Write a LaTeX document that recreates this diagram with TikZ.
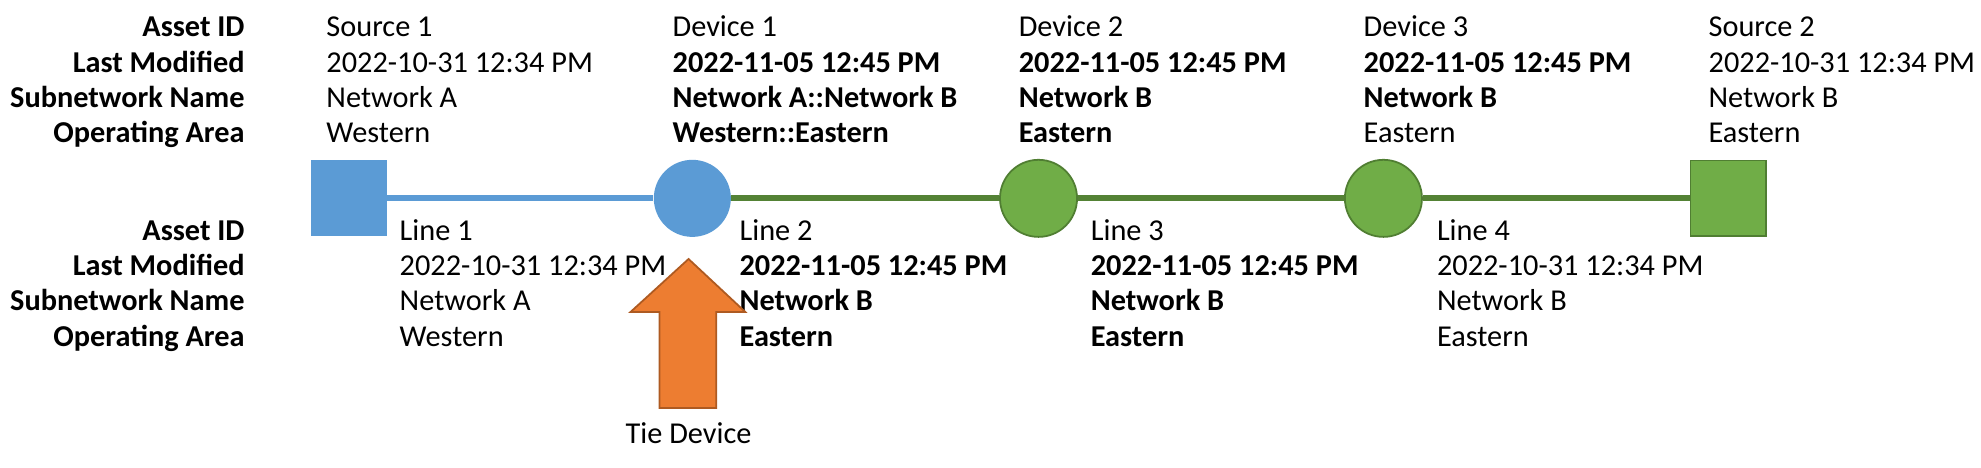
\documentclass[tikz,border=0pt]{standalone}
\usepackage{fontspec}
\setmainfont{Carlito}
\usetikzlibrary{positioning}

\definecolor{accblue}{HTML}{5B9BD5}
\definecolor{accgreen}{HTML}{70AD47}
\definecolor{darkgreen}{HTML}{507E32}
\definecolor{linegreen}{HTML}{548235}
\definecolor{accorange}{HTML}{ED7D31}
\definecolor{darkorange}{HTML}{AE5A21}

\begin{document}
\begin{tikzpicture}[x=0.5pt,y=0.5pt,
    txt/.style={inner sep=0pt, anchor=north west, align=left,
      font=\fontsize{12}{14}\selectfont},
    hdr/.style={inner sep=0pt, anchor=north east, align=right,
      font=\fontsize{12}{14}\selectfont\bfseries},
    srcblue/.style={rectangle, fill=accblue, minimum size=30pt, inner sep=0pt},
    srcgreen/.style={rectangle, fill=accgreen, draw=darkgreen, line width=0.7pt,
      minimum size=30pt, inner sep=0pt},
    devblue/.style={circle, fill=accblue, minimum size=30.5pt, inner sep=0pt},
    devgreen/.style={circle, fill=accgreen, draw=darkgreen, line width=0.7pt,
      minimum size=30.5pt, inner sep=0pt},
    blueline/.style={draw=accblue, line width=2.4pt},
    greenline/.style={draw=linegreen, line width=2.4pt},
    tiearrow/.style={fill=accorange, draw=darkorange, line width=0.7pt}]

\useasboundingbox (0,0) rectangle (1568,370);

% Headers
  \node[hdr] (HdrTop) at (194,361) {\strut Asset ID\\\strut Last Modified\\\strut Subnetwork Name\\\strut Operating Area};
  \node[hdr] (HdrBot) at (194,200) {\strut Asset ID\\\strut Last Modified\\\strut Subnetwork Name\\\strut Operating Area};

% Assets
  \node[srcblue]  (Src1) at (276,213) {};
  \node[devblue]  (Dev1) at (548,213) {};
  \node[devgreen] (Dev2) at (822,213) {};
  \node[devgreen] (Dev3) at (1095,213) {};
  \node[srcgreen] (Src2) at (1368,213) {};

% Lines
  \draw[blueline]  (Src1) -- (Dev1);
  \draw[greenline] (Dev1) -- (Dev2);
  \draw[greenline] (Dev2) -- (Dev3);
  \draw[greenline] (Dev3) -- (Src2);

% Asset data
  \node[txt] (Src1Txt) at (258,361) {\strut Source 1\\\strut 2022-10-31 12:34 PM\\\strut Network A\\\strut Western};
  \node[txt] (Dev1Txt) at (532,361) {\strut Device 1\\\strut\textbf{2022-11-05 12:45 PM}\\\strut\textbf{Network A::Network B}\\\strut\textbf{Western::Eastern}};
  \node[txt] (Dev2Txt) at (806,361) {\strut Device 2\\\strut\textbf{2022-11-05 12:45 PM}\\\strut\textbf{Network B}\\\strut\textbf{Eastern}};
  \node[txt] (Dev3Txt) at (1079,361) {\strut Device 3\\\strut\textbf{2022-11-05 12:45 PM}\\\strut\textbf{Network B}\\\strut Eastern};
  \node[txt] (Src2Txt) at (1352,361) {\strut Source 2\\\strut 2022-10-31 12:34 PM\\\strut Network B\\\strut Eastern};

% Line data
  \node[txt] (Ln1Txt) at (316,200) {\strut Line 1\\\strut 2022-10-31 12:34 PM\\\strut Network A\\\strut Western};
  \node[txt] (Ln2Txt) at (585,200) {\strut Line 2\\\strut\textbf{2022-11-05 12:45 PM}\\\strut\textbf{Network B}\\\strut\textbf{Eastern}};
  \node[txt] (Ln3Txt) at (863,200) {\strut Line 3\\\strut\textbf{2022-11-05 12:45 PM}\\\strut\textbf{Network B}\\\strut\textbf{Eastern}};
  \node[txt] (Ln4Txt) at (1137,200) {\strut Line 4\\\strut 2022-10-31 12:34 PM\\\strut Network B\\\strut Eastern};

% Tie device
  \draw[tiearrow] (545,165) -- (590,123) -- (567,123) -- (567,47)
    -- (522,47) -- (522,123) -- (499,123) -- cycle;
  \node[txt, anchor=north] (TieTxt) at (545,39) {\strut Tie Device};

\end{tikzpicture}
\end{document}
